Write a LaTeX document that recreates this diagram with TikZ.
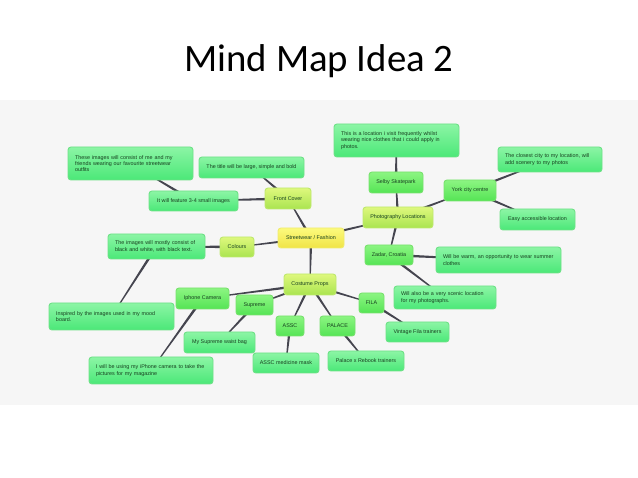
\documentclass[tikz,border=0pt]{standalone}
\usepackage{fontspec}
\setmainfont{Liberation Sans}
\newfontfamily\titlefont{Carlito}
\usetikzlibrary{calc}
\pgfdeclarelayer{bg}
\pgfsetlayers{bg,main}
\hyphenpenalty=10000
\exhyphenpenalty=10000
\definecolor{panelc}{HTML}{F6F6F6}
\definecolor{linkc}{HTML}{45454F}
\definecolor{txtc}{HTML}{17401F}
\definecolor{leafd}{HTML}{6EE187}
\definecolor{leaft}{HTML}{8CF5A5}
\definecolor{leafb}{HTML}{4BE878}
\definecolor{midd}{HTML}{78E16E}
\definecolor{midt}{HTML}{8CF582}
\definecolor{midb}{HTML}{55E455}
\definecolor{maind}{HTML}{BEE86E}
\definecolor{maint}{HTML}{DEF87D}
\definecolor{mainb}{HTML}{AAE450}
\definecolor{rootd}{HTML}{F0EB6E}
\definecolor{roott}{HTML}{FCFA7D}
\definecolor{rootb}{HTML}{F0E446}
\tikzset{
  box/.style={rectangle,rounded corners=3pt,line width=0.9pt,font=\fontsize{5.4}{6.3}\selectfont,text=txtc,inner sep=0pt,minimum height=#1},
  leaf/.style={box=#1,draw=leafd,top color=leaft,bottom color=leafb},
  mid/.style={box=#1,draw=midd,top color=midt,bottom color=midb},
  main/.style={box=#1,draw=maind,top color=maint,bottom color=mainb},
  root/.style={box=#1,draw=rootd,top color=roott,bottom color=rootb},
  link/.style={fill=linkc,draw=none}
}
\newcommand\lnk[2]{%
  \path[link] ($(#1.center)!1.4pt!90:(#2.center)$) -- ($(#1.center)!1.4pt!-90:(#2.center)$)
   -- ($(#2.center)!0.45pt!90:(#1.center)$) -- ($(#2.center)!0.45pt!-90:(#1.center)$) -- cycle;}
\begin{document}
\begin{tikzpicture}[x=1pt,y=-1pt]
\useasboundingbox (0,0) rectangle (638,478);
\node[font=\titlefont\fontsize{38.8}{42}\selectfont,text=black,inner sep=0pt] (title) at (319,61.5) {Mind Map Idea 2};
% root & main
\node[root=20,minimum width=66,align=center] (root) at (311,238) {Streetwear / Fashion};
\node[main=21,minimum width=46,align=center] (front) at (288,198.5) {Front Cover};
\node[main=20,minimum width=34,align=center] (colours) at (237,247) {Colours};
\node[main=21,minimum width=70,align=center] (photo) at (398,217.5) {Photography Locations};
\node[main=21,minimum width=52,align=center] (props) at (310,284.5) {Costume Props};
% mid
\node[mid=21,minimum width=54,align=center] (selby) at (396,182.5) {Selby Skatepark};
\node[mid=21,minimum width=52,align=center] (york) at (470,190.5) {York city centre};
\node[mid=20,minimum width=48,align=center] (zadar) at (389,255) {Zadar, Croatia};
\node[mid=20,minimum width=25,align=center] (fila) at (371.5,303) {FILA};
\node[mid=20,minimum width=35,align=center] (palace) at (337.5,326) {PALACE};
\node[mid=20,minimum width=28,align=center] (assc) at (290,326) {ASSC};
\node[mid=20,minimum width=37,align=center] (supreme) at (254.5,305) {Supreme};
\node[mid=21,minimum width=53,align=center] (iphone) at (202.5,298.5) {Iphone Camera};
% leaves
\node[leaf=33,text width=111,align=left,minimum width=125] (a) at (130.5,163.5) {These images will consist of me and my friends wearing our favourite streetwear outfits};
\node[leaf=21,minimum width=105,align=center] (b) at (251.5,167.5) {The title will be large, simple and bold};
\node[leaf=20,minimum width=89,align=center] (c) at (193.5,201) {It will feature 3-4 small images};
\node[leaf=25,text width=83,align=left,minimum width=97] (g) at (156.5,246.5) {The images will mostly consist of black and white, with black text.};
\node[leaf=33,text width=111,align=left,minimum width=125] (h) at (396.5,140.5) {This is a location i visit frequently whilst wearing nice clothes that i could apply in photos.};
\node[leaf=25,text width=90,align=left,minimum width=104] (k) at (550,159.5) {The closest city to my location, will add scenery to my photos};
\node[leaf=21,minimum width=75,align=center] (l) at (537.5,219.5) {Easy accessible location};
\node[leaf=26,text width=111,align=left,minimum width=125] (o) at (498.5,260) {Will be warm, an opportunity to wear summer clothes};
\node[leaf=23,text width=88,align=left,minimum width=102] (p) at (445,297.5) {Will also be a very scenic location for my photographs.};
\node[leaf=20,minimum width=63,align=center] (s) at (417.5,332) {Vintage Fila trainers};
\node[leaf=20,minimum width=76,align=center] (u) at (366,361) {Palace x Rebook trainers};
\node[leaf=20,minimum width=66,align=center] (w) at (286,363) {ASSC medicine mask};
\node[leaf=21,minimum width=71,align=center] (y) at (219.5,342.5) {My Supreme waist bag};
\node[leaf=27,text width=110,align=left,minimum width=124] (aa) at (151,370.5) {I will be using my iPhone camera to take the pictures for my magazine};
\node[leaf=27,text width=111,align=left,minimum width=125] (ab) at (111.5,316.5) {Inspired by the images used in my mood board.};
\begin{pgfonlayer}{bg}
\fill[panelc] (0,100) rectangle (638,405);
\lnk{root}{front}\lnk{root}{colours}\lnk{root}{photo}\lnk{root}{props}
\lnk{front}{b}\lnk{front}{c}\lnk{c}{a}
\lnk{colours}{g}\lnk{g}{ab}
\lnk{photo}{selby}\lnk{selby}{h}\lnk{photo}{york}\lnk{york}{k}\lnk{york}{l}
\lnk{photo}{zadar}\lnk{zadar}{o}\lnk{zadar}{p}
\lnk{props}{iphone}\lnk{props}{supreme}\lnk{props}{assc}\lnk{props}{palace}\lnk{props}{fila}
\lnk{iphone}{aa}\lnk{supreme}{y}\lnk{assc}{w}\lnk{palace}{u}\lnk{fila}{s}
\end{pgfonlayer}
\end{tikzpicture}
\end{document}
